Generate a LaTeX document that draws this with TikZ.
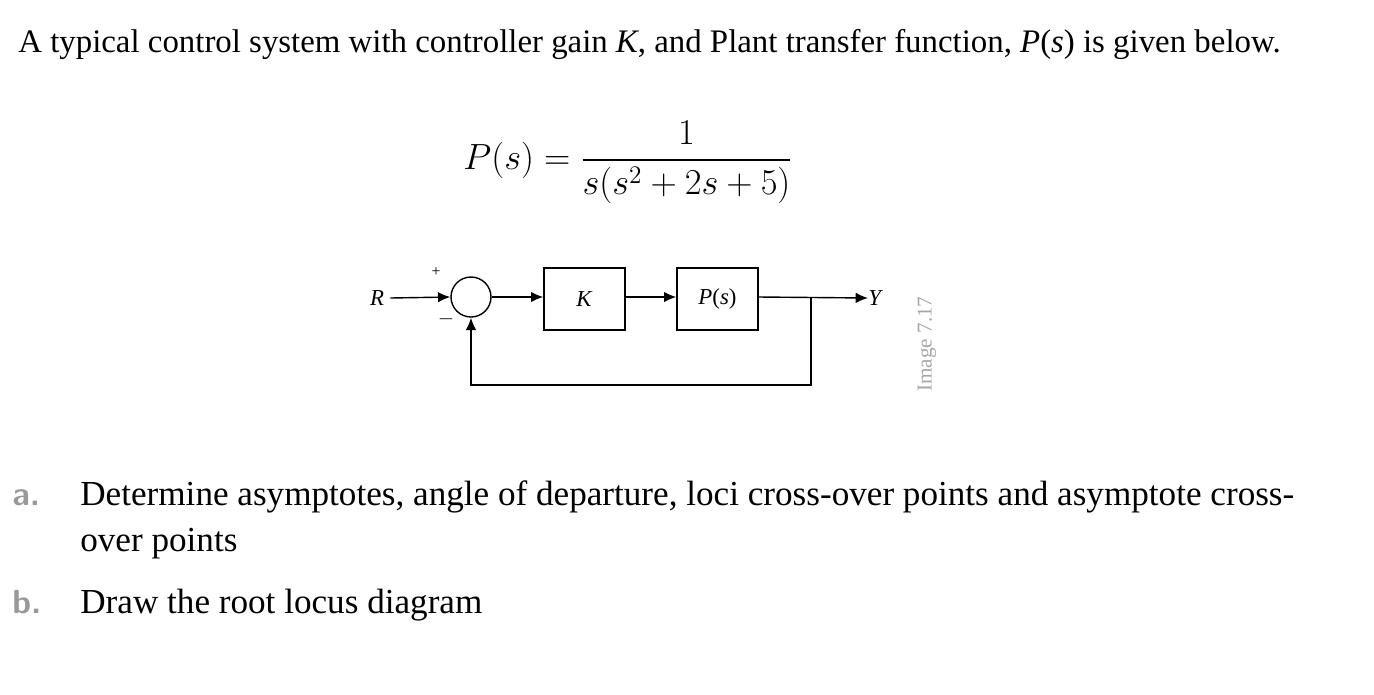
\documentclass[tikz,border=0pt]{standalone}
\usepackage{amsmath}
\usepackage{fontspec}
\setmainfont{Liberation Serif}
\usetikzlibrary{arrows.meta}
\begin{document}
\begin{tikzpicture}[x=0.02cm,y=-0.02cm,
  blk/.style={draw,line width=0.8pt,minimum width=81*0.02cm,minimum height=62*0.02cm,inner sep=0pt,font=\fontsize{13}{15}\selectfont},
  con/.style={line width=0.8pt},
  arr/.style={con,-{Latex[length=7pt,width=6pt]}},
  lab/.style={font=\fontsize{13}{15}\selectfont,inner sep=0pt},
  qtext/.style={anchor=base west,inner sep=0pt,font=\fontsize{20}{24}\selectfont},
  qlab/.style={anchor=base west,inner sep=0pt,text=gray!80,font=\fontsize{19}{22}\sffamily\bfseries\selectfont}]
\useasboundingbox (0,0) rectangle (1374,694);
\node[qtext,font=\fontsize{18.7}{22}\selectfont] (title) at (18,52) {A typical control system with controller gain \textit{K}, and Plant transfer function, \textit{P}(\textit{s}) is given below.};
\node[inner sep=0pt,font=\fontsize{20}{24}\selectfont] (eq) at (628,162) {$P(s)=\dfrac{\quad\;1\;\quad}{s(s^2+2s+5)}$};
\node[draw,circle,line width=0.8pt,minimum size=40*0.02cm,inner sep=0pt] (sum) at (471,297) {};
\node[blk] (k) at (584.5,299) {\textit{K}};
\node[blk] (p) at (717.5,299) {\textit{P}(\textit{s})};
\node[lab] (r) at (377,298) {\textit{R}};
\node[lab,anchor=west] (y) at (868,298) {\textit{Y}};
\node[lab,font=\fontsize{9}{10}\selectfont] (plus) at (436,272) {+};
\node[lab] (minus) at (446,319) {$-$};
\coordinate (br) at (811,297);
\coordinate (c1) at (811,385);
\coordinate (c2) at (471,385);
\draw[arr] (r.east) ++(6,0) -- (sum.west);
\draw[arr] (sum.east) -- (k.west|-sum.east);
\draw[arr] (k.east|-sum) -- (p.west|-sum);
\draw[arr] (p.east|-sum) -- (y.west);
\draw[arr] (br) -- (c1) -- (c2) -- (sum.south);
\node[rotate=90,text=gray!70,font=\fontsize{12}{14}\selectfont,inner sep=0pt] (img) at (927,344) {Image 7.17};
\node[qlab] (la) at (12,505) {a.};
\node[qtext] (ta) at (80,505) {Determine asymptotes, angle of departure, loci cross-over points and asymptote cross-};
\node[qtext] (ta2) at (80,551) {over points};
\node[qlab] (lb) at (12,613) {b.};
\node[qtext] (tb) at (80,613) {Draw the root locus diagram};
\end{tikzpicture}
\end{document}
